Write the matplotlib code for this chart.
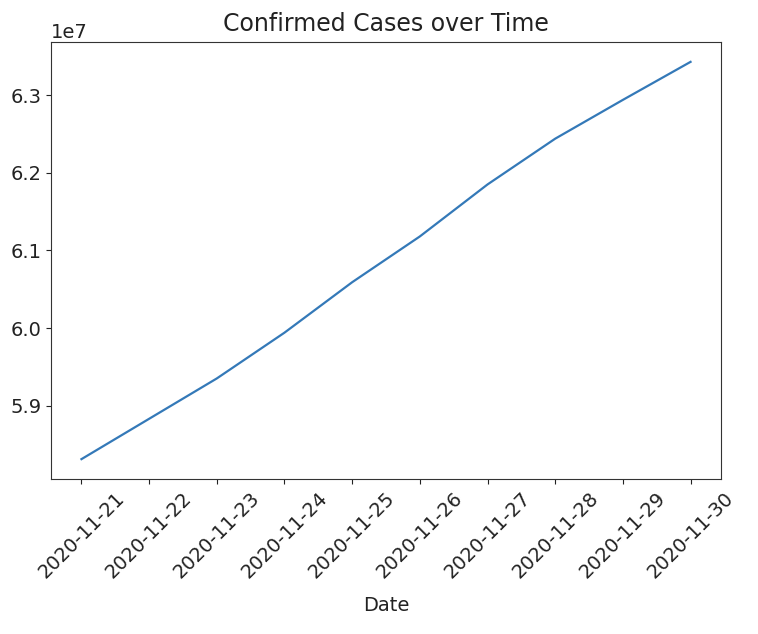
import matplotlib
matplotlib.use("Agg")
import matplotlib.pyplot as plt

# daily confirmed cases (global)
dates = ["2020-11-21", "2020-11-22", "2020-11-23", "2020-11-24", "2020-11-25",
         "2020-11-26", "2020-11-27", "2020-11-28", "2020-11-29", "2020-11-30"]
confirmed = [58310000, 58830000, 59350000, 59940000, 60590000,
             61180000, 61850000, 62440000, 62940000, 63430000]

plt.rcParams['font.size'] = 14
plt.rcParams['text.color'] = "#222222"
plt.rcParams['axes.labelcolor'] = "#222222"
plt.rcParams['xtick.color'] = "#222222"
plt.rcParams['ytick.color'] = "#222222"

fig = plt.figure(figsize=(7.58, 6.34), dpi=100)
ax = fig.add_axes([51/758, 1 - 479/634, (721 - 51)/758, (479 - 42)/634])

ax.plot(dates, confirmed, color="#3479b8", linewidth=1.6)

ax.set_title("Confirmed Cases over Time", fontsize=17, pad=8)
ax.set_xlabel("Date", fontsize=14, labelpad=10)
ax.tick_params(axis='x', labelrotation=45, labelsize=14)
ax.tick_params(axis='y', labelsize=14)
ax.yaxis.get_offset_text().set_fontsize(14)

for s in ax.spines.values():
    s.set_color("#333333")

fig.savefig("out.png", dpi=100)
